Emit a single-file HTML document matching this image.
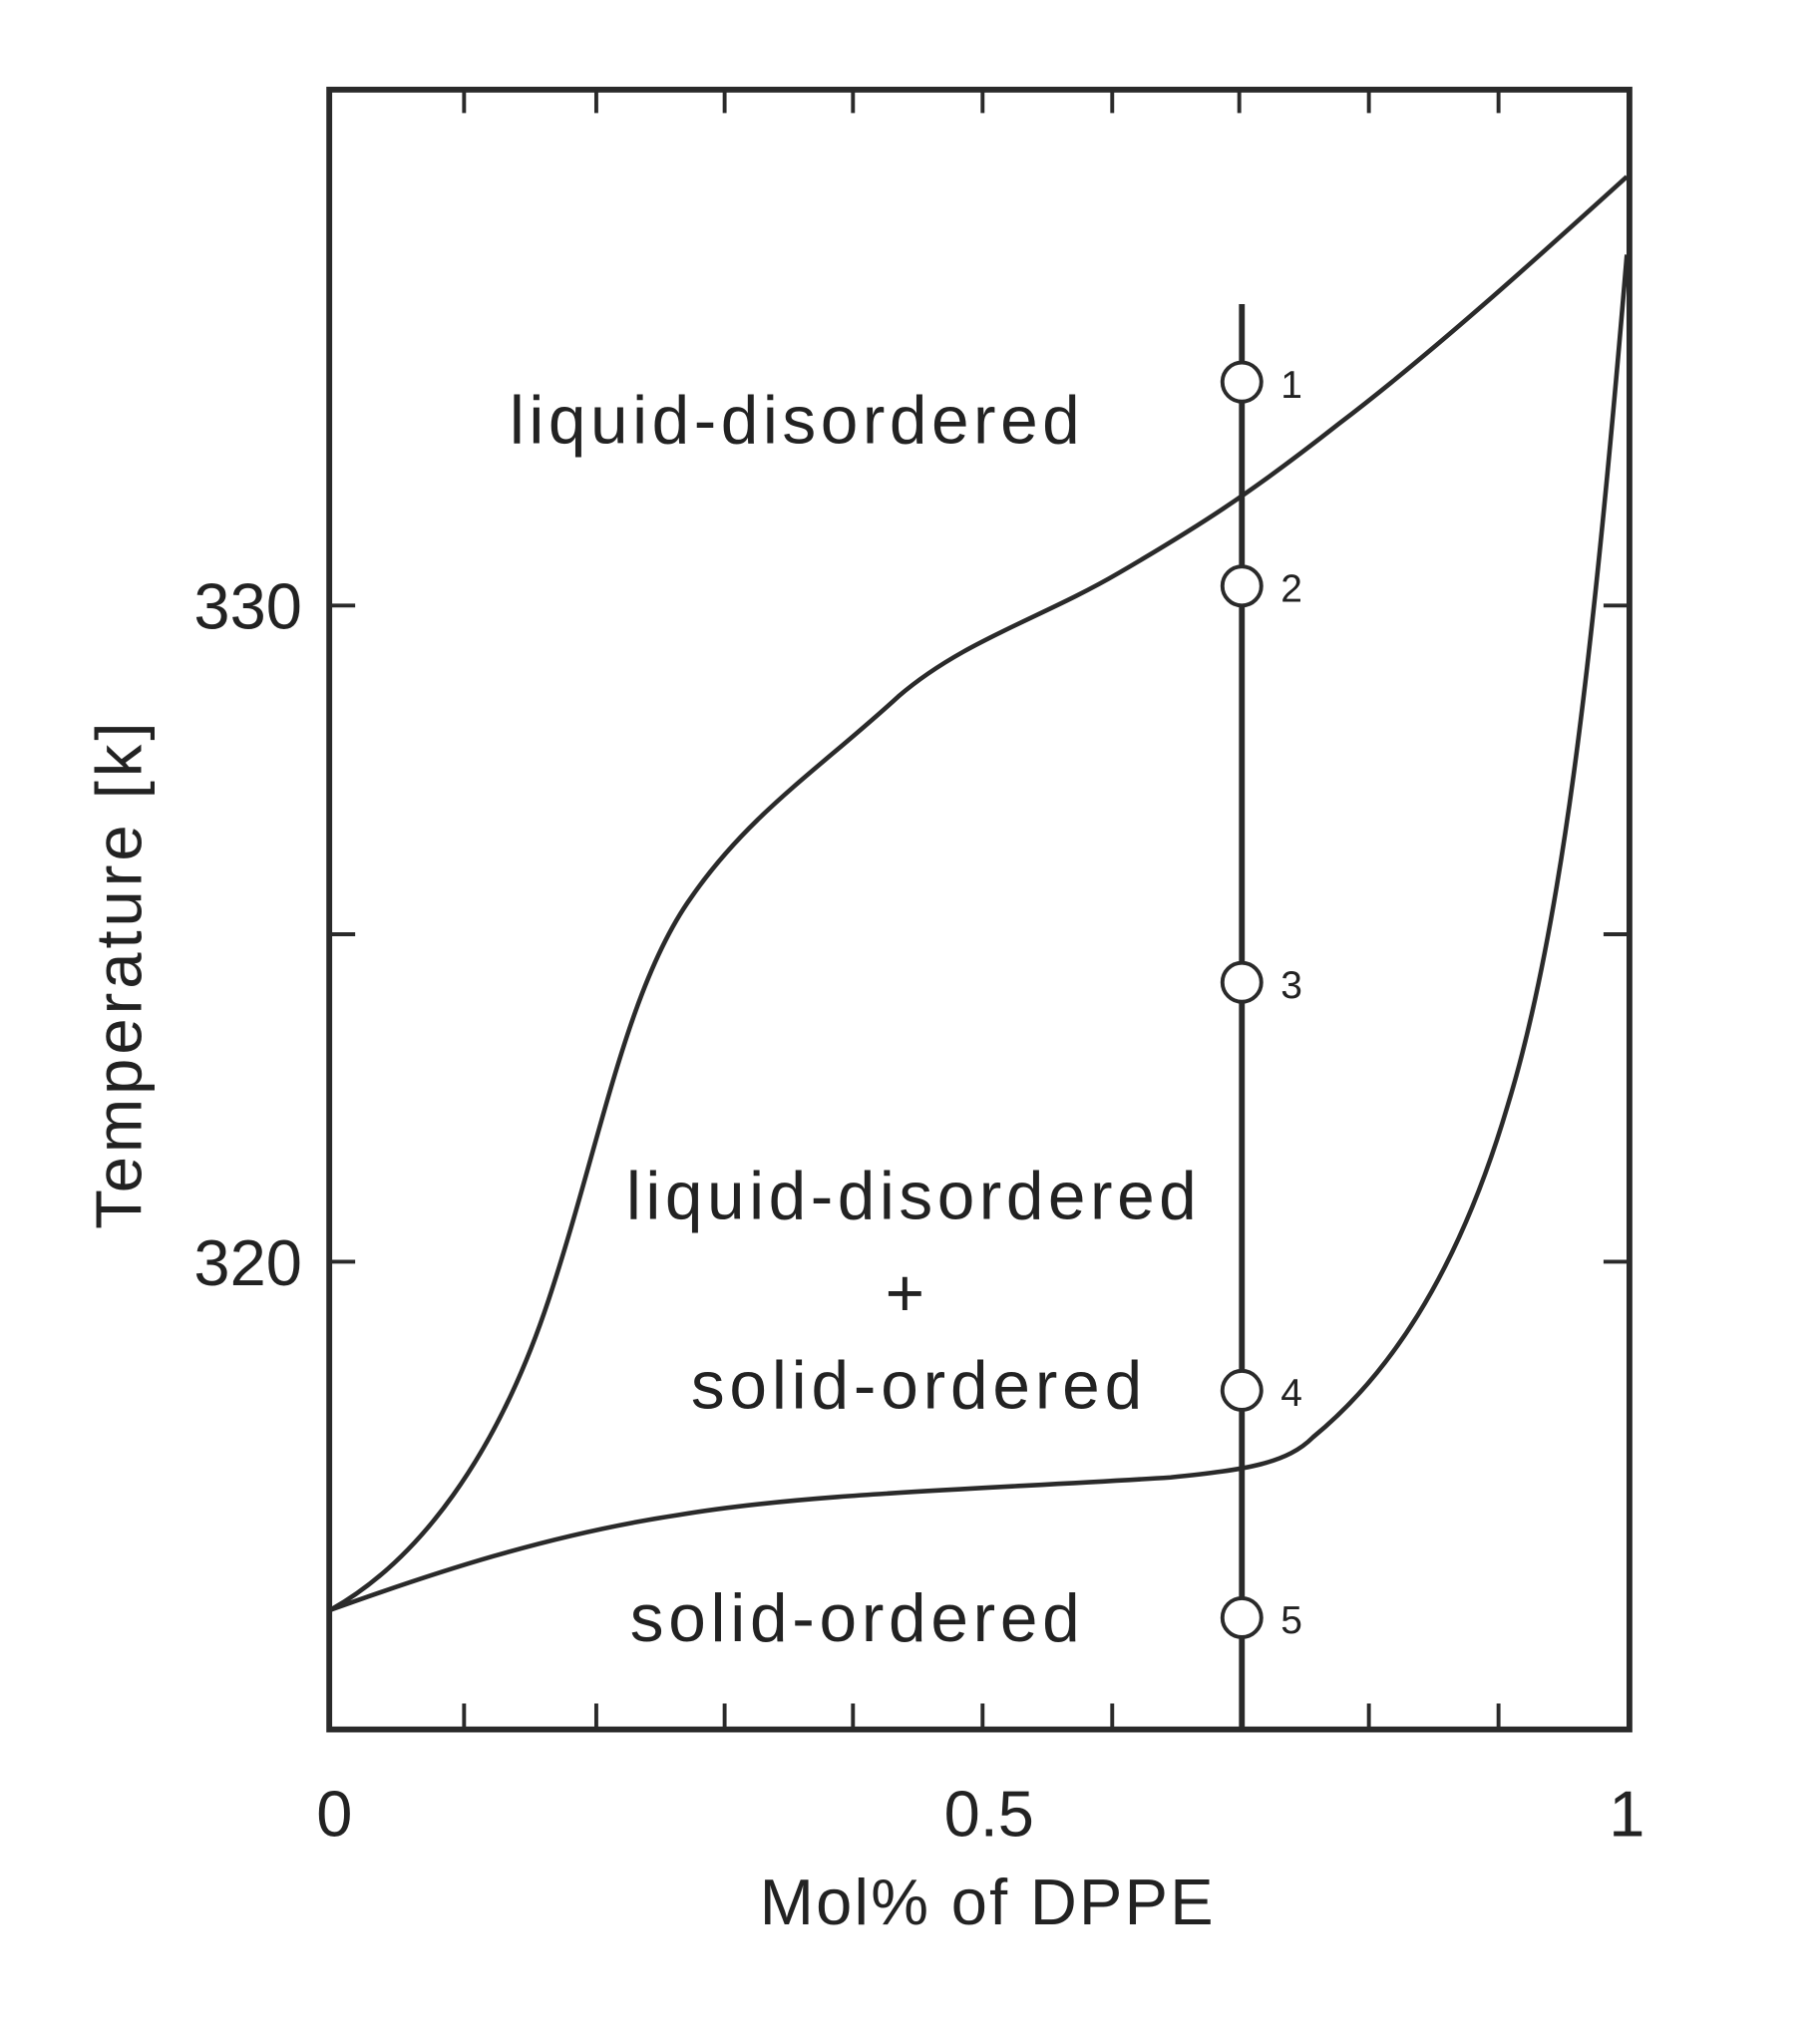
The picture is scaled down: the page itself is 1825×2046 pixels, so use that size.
<!DOCTYPE html>
<html><head><meta charset="utf-8"><style>html,body{margin:0;padding:0;background:#fff}svg{display:block}</style></head>
<body>
<svg width="1825" height="2046" viewBox="-3 -1 1404 1570" preserveAspectRatio="none" xmlns="http://www.w3.org/2000/svg" font-family="Liberation Sans, sans-serif" fill="#222">
<rect x="-3" y="-1" width="1404" height="1570" fill="#fff"/>
<g stroke="#2a2a2a" fill="none">
<rect x="251" y="68" width="1003" height="1262" stroke-width="4.5"/>
<g stroke-width="3">
<path d="M355 68v18M457 68v18M556 68v18M655 68v18M755 68v18M855 68v18M953 68v18M1053 68v18M1153 68v18"/>
<path d="M355 1330v-20M457 1330v-20M556 1330v-20M655 1330v-20M755 1330v-20M855 1330v-20M1053 1330v-20M1153 1330v-20"/>
<path d="M251 465h20M251 718h20M251 970h20M1254 465h-20M1254 718h-20M1254 970h-20"/>
</g>
<path stroke-width="3.5" d="M252 1238 C320 1200 380 1120 420 1000 C460 880 480 760 530 690 C575 625 630 590 690 535 C740 492 800 475 860 440 C920 405 960 380 1030 325 C1100 272 1180 200 1252 135"/>
<path stroke-width="3.5" d="M252 1238 C330 1210 420 1180 520 1165 C620 1148 760 1145 900 1136 C960 1130 990 1125 1010 1105 C1065 1060 1120 985 1160 850 C1200 720 1225 520 1252 195"/>
<path stroke-width="4.5" d="M955 233V1330"/>
</g>
<g fill="#fff" stroke="#2a2a2a" stroke-width="3">
<circle cx="955" cy="293" r="15"/><circle cx="955" cy="450" r="15"/><circle cx="955" cy="755" r="15"/><circle cx="955" cy="1069" r="15"/><circle cx="955" cy="1244" r="15"/>
</g>
<g font-size="30">
<text x="985" y="305">1</text><text x="985" y="462">2</text><text x="985" y="767">3</text><text x="985" y="1081">4</text><text x="985" y="1256">5</text>
</g>
<g font-size="52">
<text x="390" y="340" textLength="440">liquid-disordered</text>
<text x="480" y="937" textLength="440">liquid-disordered</text>
<text x="695" y="1012" text-anchor="middle">+</text>
<text x="530" y="1083" textLength="348">solid-ordered</text>
<text x="483" y="1262" textLength="347">solid-ordered</text>
</g>
<g font-size="50">
<text x="230" y="483" text-anchor="end">330</text>
<text x="230" y="988" text-anchor="end">320</text>
<text x="255" y="1412" text-anchor="middle">0</text>
<text x="760" y="1412" text-anchor="middle">0.5</text>
<text x="1252" y="1412" text-anchor="middle">1</text>
<text x="583" y="1480" font-size="50" textLength="350">Mol% of DPPE</text>
<text transform="translate(106 945) rotate(-90)" font-size="50" textLength="390">Temperature [k]</text>
</g>
</svg>
</body></html>
